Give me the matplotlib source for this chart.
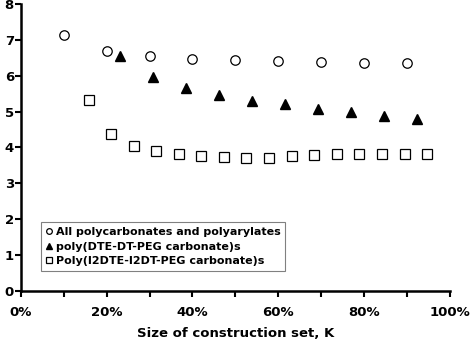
import numpy as np
from matplotlib import pyplot as plt
from matplotlib.ticker import MultipleLocator, PercentFormatter

# data (x as fraction of construction set)
circle_x = [0.10, 0.20, 0.30, 0.40, 0.50, 0.60, 0.70, 0.80, 0.90]
circle_y = [7.14, 6.68, 6.54, 6.48, 6.45, 6.41, 6.38, 6.36, 6.37]

tri_x = [0.231, 0.308, 0.385, 0.462, 0.538, 0.615, 0.692, 0.769, 0.846, 0.923]
tri_y = [6.55, 5.97, 5.67, 5.46, 5.31, 5.20, 5.08, 4.98, 4.89, 4.79]

sq_x = [0.158, 0.211, 0.263, 0.316, 0.368, 0.421, 0.474, 0.526,
        0.579, 0.632, 0.684, 0.737, 0.789, 0.842, 0.895, 0.947]
sq_y = [5.33, 4.37, 4.04, 3.90, 3.81, 3.76, 3.73, 3.70,
        3.72, 3.75, 3.78, 3.81, 3.82, 3.83, 3.82, 3.82]

labels = ["All polycarbonates and polyarylates",
          "poly(DTE-DT-PEG carbonate)s",
          "Poly(I2DTE-I2DT-PEG carbonate)s"]

fig = plt.figure(figsize=(4.74, 3.45), dpi=100)
ax = fig.add_axes([0.044, 0.157, 0.905, 0.831])

ax.plot(circle_x, circle_y, "o", ms=6.8, mfc="white", mec="black", mew=0.9, ls="none", label=labels[0])
ax.plot(tri_x, tri_y, "^", ms=7.2, mfc="black", mec="black", ls="none", label=labels[1])
ax.plot(sq_x, sq_y, "s", ms=7.2, mfc="white", mec="black", mew=0.9, ls="none", label=labels[2])

ax.set_xlim(0, 1.0)
ax.set_ylim(0, 8)
ax.xaxis.set_major_locator(MultipleLocator(0.2))
ax.xaxis.set_minor_locator(MultipleLocator(0.1))
ax.xaxis.set_major_formatter(PercentFormatter(1.0, decimals=0))
ax.yaxis.set_major_locator(MultipleLocator(1))

for side in ["top", "right"]:
    ax.spines[side].set_visible(False)
for side in ["left", "bottom"]:
    ax.spines[side].set_linewidth(1.8)

ax.tick_params(which="both", direction="out", width=1.5, length=4)
ax.tick_params(axis="x", pad=7)
ax.tick_params(axis="y", pad=1)
for lbl in ax.get_xticklabels() + ax.get_yticklabels():
    lbl.set_fontweight("bold")
    lbl.set_fontsize(9.5)

ax.set_xlabel("Size of construction set, K", fontsize=9.5, fontweight="bold", labelpad=6)

leg = ax.legend(loc="lower left", bbox_to_anchor=(0.033, 0.05), fancybox=False,
                prop={"weight": "bold", "size": 8}, markerscale=0.6,
                handlelength=0.6, handletextpad=0.3, borderpad=0.45,
                labelspacing=0.4, framealpha=1)
leg.get_frame().set_edgecolor("gray")
leg.get_frame().set_linewidth(0.8)

plt.savefig("out.png", dpi=100)
